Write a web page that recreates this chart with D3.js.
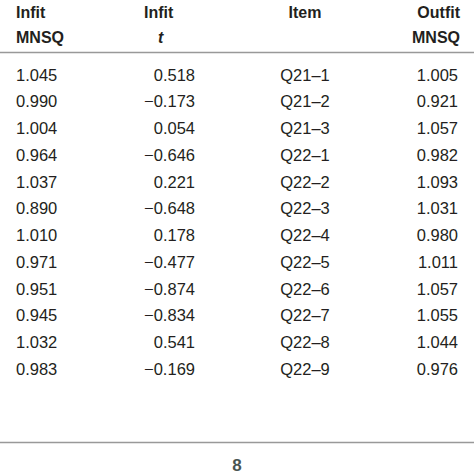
<!DOCTYPE html><html><head><meta charset="utf-8"><script src="https://cdn.jsdelivr.net/npm/d3@7"></script>
<style>body{margin:0;background:#fff}</style></head><body><script>
const infitMNSQ=["1.045","0.990","1.004","0.964","1.037","0.890","1.010","0.971","0.951","0.945","1.032","0.983"];
const infitT=["0.518","\u22120.173","0.054","\u22120.646","0.221","\u22120.648","0.178","\u22120.477","\u22120.874","\u22120.834","0.541","\u22120.169"];
const items=["Q21\u20131","Q21\u20132","Q21\u20133","Q22\u20131","Q22\u20132","Q22\u20133","Q22\u20134","Q22\u20135","Q22\u20136","Q22\u20137","Q22\u20138","Q22\u20139"];
const outfitMNSQ=["1.005","0.921","1.057","0.982","1.093","1.031","0.980","1.011","1.057","1.055","1.044","0.976"];
const W=474,H=474;
const svg=d3.select("body").append("svg").attr("width",W).attr("height",H).style("font-family","'Liberation Sans',Arial,sans-serif");
const y=d3.scaleBand().domain(d3.range(items.length)).range([61.5,382.5]);
const fs=16.5,col="#231f20";
const hdr=svg.append("g").attr("font-weight","bold").attr("font-size",16).attr("fill",col);
hdr.append("text").attr("x",16).attr("y",18).text("Infit");
hdr.append("text").attr("x",16).attr("y",43).text("MNSQ");
hdr.append("text").attr("x",144).attr("y",18).text("Infit");
hdr.append("text").attr("x",158).attr("y",43).attr("font-style","italic").text("t");
hdr.append("text").attr("x",305).attr("y",18).attr("text-anchor","middle").text("Item");
hdr.append("text").attr("x",460).attr("y",18).attr("text-anchor","end").text("Outfit");
hdr.append("text").attr("x",460).attr("y",43).attr("text-anchor","end").text("MNSQ");
svg.append("line").attr("x1",0).attr("x2",W).attr("y1",52.5).attr("y2",52.5).attr("stroke","#999").attr("stroke-width",1.5);
svg.append("line").attr("x1",0).attr("x2",W).attr("y1",442.5).attr("y2",442.5).attr("stroke","#999").attr("stroke-width",1.5);
const cols=[[infitMNSQ,16,"start"],[infitT,195,"end"],[items,305,"middle"],[outfitMNSQ,458,"end"]];
cols.forEach(([arr,x,a])=>{
 svg.append("g").selectAll("text").data(arr).join("text").attr("x",x).attr("y",(d,i)=>y(i)+y.bandwidth()/2).attr("dy","0.35em")
 .attr("text-anchor",a).attr("font-size",fs).attr("fill",col).text(d=>d);
});
svg.append("text").attr("x",237).attr("y",465).attr("dy","0.35em").attr("text-anchor","middle").attr("font-size",17).attr("font-weight","bold").attr("fill","#4a5552").text("8");
</script></body></html>
